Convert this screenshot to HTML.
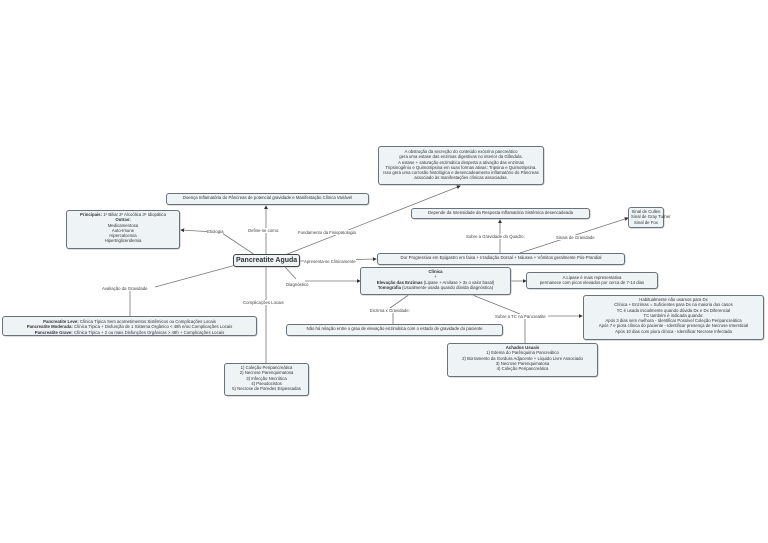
<!DOCTYPE html>
<html><head><meta charset="utf-8"><style>
html,body{margin:0;padding:0;background:#fff;}
body{width:768px;height:543px;position:relative;overflow:hidden;font-family:"Liberation Sans",sans-serif;color:#333;}
.b{position:absolute;box-sizing:border-box;background:#eef3f6;border:1px solid #6a737a;border-radius:3px;font-size:4.3px;line-height:5.3px;text-align:center;padding:1px 2px;white-space:nowrap;box-shadow:0.5px 0.5px 0 #bbb;}
.l{position:absolute;font-size:4.3px;line-height:5px;background:#fff;white-space:nowrap;color:#444;}
svg{position:absolute;left:0;top:0;}
</style></head><body>
<svg width="768" height="543">
<defs><marker id="a" markerWidth="5" markerHeight="5" refX="4" refY="2.5" orient="auto"><path d="M0,0 L5,2.5 L0,5z" fill="#333"/></marker></defs>
<g stroke="#777" stroke-width="0.8" fill="none">
<line x1="266" y1="255" x2="266" y2="206" marker-end="url(#a)"/>
<line x1="266" y1="267" x2="266" y2="363"/>
<line x1="255" y1="255" x2="222" y2="233"/>
<line x1="214" y1="232" x2="181" y2="230" marker-end="url(#a)"/>
<line x1="285" y1="255" x2="460" y2="186" marker-end="url(#a)"/>
<line x1="236" y1="265" x2="155" y2="287"/>
<line x1="130" y1="291" x2="130" y2="316"/>
<line x1="299" y1="261" x2="376" y2="259" marker-end="url(#a)"/>
<line x1="285" y1="267" x2="296" y2="279"/>
<line x1="305" y1="281" x2="360" y2="281" marker-end="url(#a)"/>
<line x1="500" y1="253" x2="500" y2="220" marker-end="url(#a)"/>
<line x1="520" y1="253" x2="628" y2="218" marker-end="url(#a)"/>
<line x1="510" y1="281" x2="526" y2="281" marker-end="url(#a)"/>
<line x1="410" y1="294" x2="390" y2="308"/>
<line x1="393" y1="313" x2="393" y2="324"/>
<line x1="470" y1="294" x2="520" y2="314"/>
<line x1="548" y1="316" x2="582" y2="316" marker-end="url(#a)"/>
<line x1="525" y1="318" x2="525" y2="343"/>
</g></svg>

<div class="b" style="left:378px;top:146px;width:166px;height:39px;padding-top:2px;">A obstrução da secreção do conteúdo exócrino pancreático<br>gera uma estase das enzimas digestivas no interior da Glândula.<br>A estase + saturação enzimática desperta a ativação das enzimas<br>Tripsinogênio e Quimotripsina em suas formas ativas: Tripsina e Quimotripsina.<br>Isso gera uma corrosão histológica e desencadeamento inflamatório do Pâncreas<br>associado às manifestações clínicas associadas.</div>
<div class="b" style="left:166px;top:193px;width:203px;height:12px;">Doença Inflamatória do Pâncreas de potencial gravidade e Manifestação Clínica Variável</div>
<div class="b" style="left:66px;top:210px;width:114px;height:39px;"><b>Principais:</b> 1º Biliar 2º Alcoólica 3º Idiopática<br><b>Outras:</b><br>Medicamentosa<br>Auto-Imune<br>Hipercalcemia<br>Hipertrigliceridemia</div>
<div class="b" style="left:233px;top:254px;width:67px;height:13px;font-size:7px;line-height:10px;font-weight:bold;border-color:#444;">Pancreatite Aguda</div>
<div class="b" style="left:377px;top:253px;width:248px;height:12px;">Dor Progressiva em Epigastro em faixa + Irradiação Dorsal + Náusea + Vômitos geralmente Pós-Prandial</div>
<div class="b" style="left:411px;top:208px;width:179px;height:11px;">Depende da Intensidade da Resposta Inflamatória Sistêmica desencadeada</div>
<div class="b" style="left:628px;top:207px;width:36px;height:21px;">Sinal de Cullen<br>Sinal de Gray Turner<br>Sinal de Fox</div>
<div class="b" style="left:360px;top:267px;width:151px;height:28px;"><b>Clínica</b><br>+<br><b>Elevação das Enzimas</b> (Lipase + Amilase &gt; 3x o valor basal)<br><b>Tomografia</b> (Usualmente usada quando dúvida diagnóstica)</div>
<div class="b" style="left:526px;top:272px;width:132px;height:17px;padding-top:2px;">A Lipase é mais representativa<br>permanece com picos elevados por cerca de 7-14 dias</div>
<div class="b" style="left:583px;top:295px;width:181px;height:45px;">Habitualmente não usamos para Dx<br>Clínica + Enzimas = Suficientes para Dx na maioria dos casos<br>TC é usada inicialmente quando dúvida Dx e Dx Diferencial<br>TC também é indicada quando:<br>Após 3 dias sem melhora - Identificar Possível Coleção Peripancreática<br>Após 7 e piora clínica do paciente - Identificar presença de Necrose Intersticial<br>Após 10 dias com piora clínica - Identificar Necrose Infectada</div>
<div class="b" style="left:286px;top:324px;width:217px;height:12px;">Não há relação entre o grau de elevação enzimática com o estado de gravidade do paciente</div>
<div class="b" style="left:447px;top:343px;width:151px;height:34px;"><b>Achados Usuais</b><br>1) Edema do Parênquima Pancreático<br>2) Borramento da Gordura Adjacente + Líquido Livre Associado<br>3) Necrose Parenquimatosa<br>4) Coleção Peripancreática</div>
<div class="b" style="left:224px;top:363px;width:85px;height:33px;">1) Coleção Peripancreática<br>2) Necrose Parenquimatosa<br>3) Infecção Necrótica<br>4) Pseudocistos<br>5) Necrose de Paredes Espessadas</div>
<div class="b" style="left:2px;top:316px;width:255px;height:20px;padding-top:2px;"><b>Pancreatite Leve:</b> Clínica Típica Sem acometimentos Sistêmicos ou Complicações Locais<br><b>Pancreatite Moderada:</b> Clínica Típica + Disfunção de 1 Sistema Orgânico &lt; 48h e/ou Complicações Locais<br><b>Pancreatite Grave:</b> Clínica Típica + 2 ou mais Disfunções Orgânicas &gt; 48h + Complicações Locais</div>

<div class="l" style="left:207px;top:229px;">Etiologia</div>
<div class="l" style="left:248px;top:228px;">Define-se como:</div>
<div class="l" style="left:298px;top:230px;">Fundamento da Fisiopatologia</div>
<div class="l" style="left:102px;top:286px;">Avaliação da Gravidade</div>
<div class="l" style="left:304px;top:259px;">Apresenta-se Clinicamente</div>
<div class="l" style="left:286px;top:282px;">Diagnóstico</div>
<div class="l" style="left:243px;top:300px;">Complicações Locais</div>
<div class="l" style="left:466px;top:234px;">Sobre a Gravidade do Quadro:</div>
<div class="l" style="left:556px;top:235px;">Sinais de Gravidade</div>
<div class="l" style="left:370px;top:308px;">Enzima x Gravidade:</div>
<div class="l" style="left:495px;top:314px;">Sobre a TC na Pancreatite</div>
</body></html>
